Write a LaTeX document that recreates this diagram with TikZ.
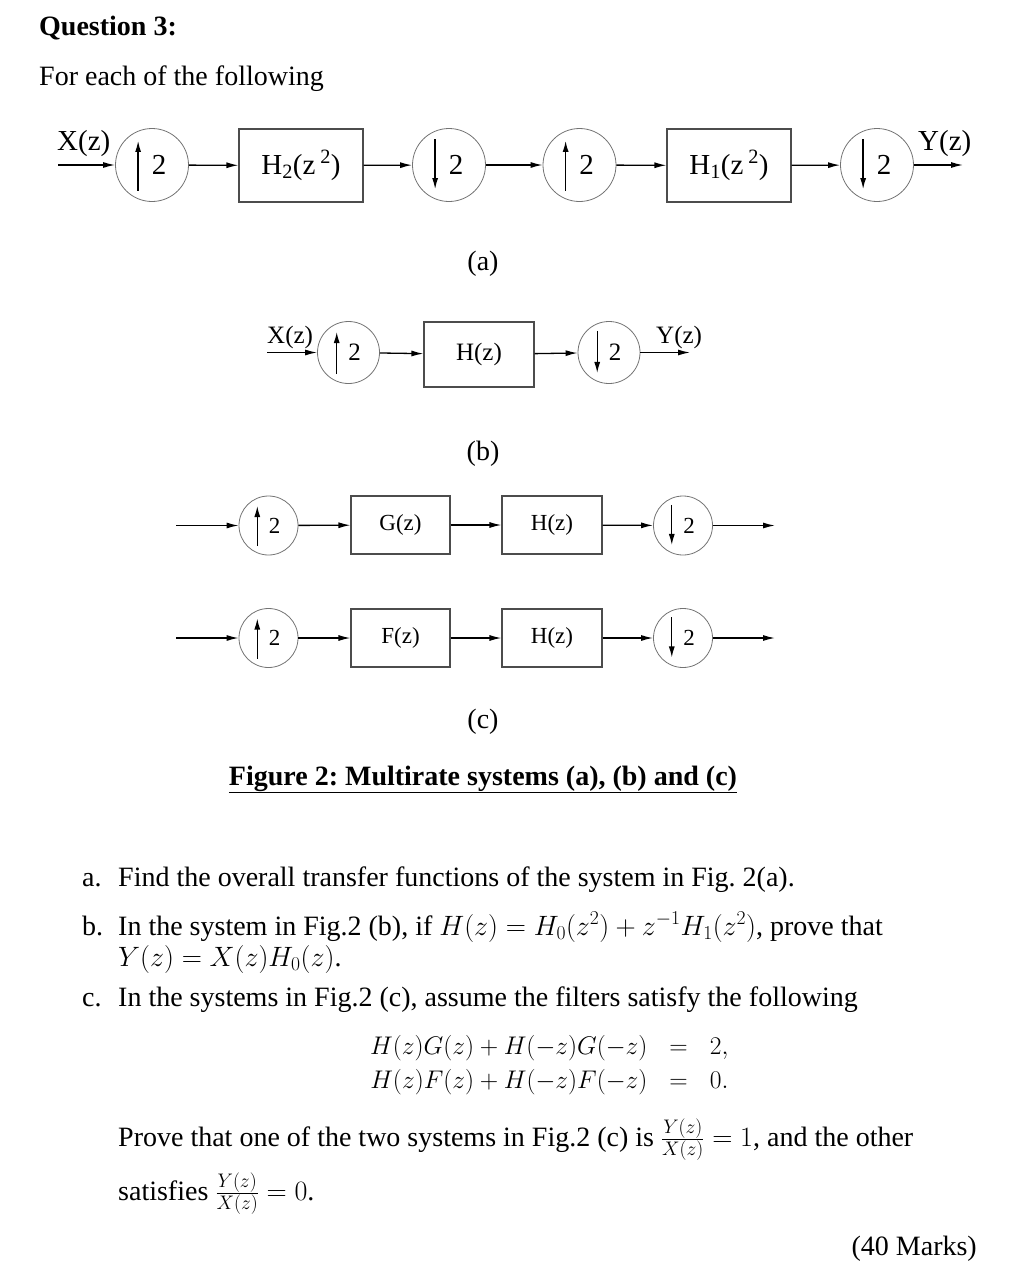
\RequirePackage{fix-cm}
\documentclass[tikz,border=0pt]{standalone}
\usepackage{fontspec}
\setmainfont{Liberation Serif}
\usetikzlibrary{arrows.meta}
\frenchspacing

\begin{document}
\begin{tikzpicture}[x=1pt, y=-1pt, >={Latex[length=12pt,width=6pt]},
		wire/.style={draw=black, line width=1.3pt},
		sam/.style={circle, draw=black!55, line width=0.8pt, minimum size=#1, inner sep=0pt},
		up/.style={sam=#1, path picture={\draw[wire, -{Latex[length=11pt,width=6pt]}]
			([xshift=-0.19*#1, yshift=-0.35*#1]path picture bounding box.center) -- ++(0pt,0.68*#1);}},
		down/.style={sam=#1, path picture={\draw[wire, -{Latex[length=11pt,width=6pt]}]
			([xshift=-0.19*#1, yshift=0.35*#1]path picture bounding box.center) -- ++(0pt,-0.68*#1);}},
		blk/.style 2 args={draw=black!70, line width=1.1pt, minimum width=#1, minimum height=#2, inner sep=0pt},
		lbl/.style={anchor=base west, inner sep=0pt},
		txt/.style={anchor=base west, inner sep=0pt, font=\fontsize{28}{34}\selectfont}]
		\useasboundingbox (0,0) rectangle (1034,1266);

		\node[txt] (qhead) at (39,35) {\textbf{Question 3:}};
		\node[txt] (qintro) at (39,85) {For each of the following};

		% (a)
		\begin{scope}[every node/.append style={font=\fontsize{29}{34}\selectfont}]
			\coordinate (ain) at (58,165);
			\coordinate (aout) at (963,165);
			\node[up=73pt] (a1) at (152,165) {\hspace{14pt}2};
			\node[blk={124pt}{73pt}] (a2) at (301,165.5) {H\textsubscript{2}(z\,\textsuperscript{2})};
			\node[down=73pt] (a3) at (449,165) {\hspace{14pt}2};
			\node[up=73pt] (a4) at (579.5,165) {\hspace{14pt}2};
			\node[blk={124pt}{73pt}] (a5) at (729,165.5) {H\textsubscript{1}(z\,\textsuperscript{2})};
			\node[down=73pt] (a6) at (877,165) {\hspace{14pt}2};
			\node[lbl] (xa) at (57,150) {X(z)};
			\node[lbl] (ya) at (918,150) {Y(z)};
			\draw[wire,->] (ain) -- (a1);
			\draw[wire,->] (a1) -- (a2);
			\draw[wire,->] (a2) -- (a3);
			\draw[wire,->] (a3) -- (a4);
			\draw[wire,->] (a4) -- (a5);
			\draw[wire,->] (a5) -- (a6);
			\draw[wire,->] (a6) -- (aout);
		\end{scope}
		\node[txt, anchor=base] (capa) at (483,270) {(a)};

		% (b)
		\begin{scope}[every node/.append style={font=\fontsize{25}{30}\selectfont}]
			\coordinate (bin) at (267,352.5);
			\coordinate (bout) at (690,352.5);
			\node[up=62pt] (b1) at (348.5,352.5) {\hspace{12pt}2};
			\node[blk={110pt}{65pt}] (b2) at (479,354.5) {H(z)};
			\node[down=62pt] (b3) at (609,352.5) {\hspace{12pt}2};
			\node[lbl] (xb) at (267,343) {X(z)};
			\node[lbl] (yb) at (656,343) {Y(z)};
			\draw[wire,->] (bin) -- (b1);
			\draw[wire,->] (b1) -- (b2);
			\draw[wire,->] (b2) -- (b3);
			\draw[wire,->] (b3) -- (bout);
		\end{scope}
		\node[txt, anchor=base] (capb) at (483,460) {(b)};

		% (c)
		\begin{scope}[every node/.append style={font=\fontsize{23}{28}\selectfont}]
			\coordinate (cin) at (176,525.5);
			\coordinate (cout) at (775,525.5);
			\node[up=59pt] (c1) at (268.5,525.5) {\hspace{12pt}2};
			\node[blk={99pt}{58pt}] (c2) at (400.5,525) {G(z)};
			\node[blk={100pt}{58pt}] (c3) at (552,525) {H(z)};
			\node[down=59pt] (c4) at (683,525.5) {\hspace{12pt}2};
			\draw[wire,->] (cin) -- (c1);
			\draw[wire,->] (c1) -- (c2);
			\draw[wire,->] (c2) -- (c3);
			\draw[wire,->] (c3) -- (c4);
			\draw[wire,->] (c4) -- (cout);
			\coordinate (din) at (176,638);
			\coordinate (dout) at (775,638);
			\node[up=59pt] (d1) at (268.5,638) {\hspace{12pt}2};
			\node[blk={99pt}{58pt}] (d2) at (400.5,638) {F(z)};
			\node[blk={100pt}{58pt}] (d3) at (552,638) {H(z)};
			\node[down=59pt] (d4) at (683,638) {\hspace{12pt}2};
			\draw[wire,->] (din) -- (d1);
			\draw[wire,->] (d1) -- (d2);
			\draw[wire,->] (d2) -- (d3);
			\draw[wire,->] (d3) -- (d4);
			\draw[wire,->] (d4) -- (dout);
		\end{scope}
		\node[txt, anchor=base] (capc) at (483,728) {(c)};
		\node[txt, anchor=base] (fig) at (483,785) {\textbf{\underline{Figure 2: Multirate systems (a), (b) and (c)}}};

		% questions
		\node[txt] (la) at (82,886) {a.};
		\node[txt] (ta) at (118,886) {Find the overall transfer functions of the system in Fig. 2(a).};
		\node[txt] (lb) at (82,935) {b.};
		\node[txt] (tb) at (118,935) {In the system in Fig.2 (b), if $H(z)=H_0(z^2)+z^{-1}H_1(z^2)$, prove that};
		\node[txt] (tb2) at (118,966) {$Y(z)=X(z)H_0(z)$.};
		\node[txt] (lc) at (82,1006) {c.};
		\node[txt] (tc) at (118,1006) {In the systems in Fig.2 (c), assume the filters satisfy the following};
		\node[txt, font=\fontsize{25.5}{34}\selectfont] (eqs) at (370,1071)
			{$\begin{array}{@{}r@{\hspace{22pt}}c@{\hspace{22pt}}l@{}}
				H(z)G(z)+H(-z)G(-z) & = & 2,\\
				H(z)F(z)+H(-z)F(-z) & = & 0.
			\end{array}$};
		\node[txt] (tp) at (118,1146) {Prove that one of the two systems in Fig.2 (c) is $\frac{Y(z)}{X(z)}=1$, and the other};
		\node[txt] (ts) at (118,1200) {satisfies $\frac{Y(z)}{X(z)}=0$.};
		\node[txt, anchor=base east] (marks) at (977,1255) {(40 Marks)};
\end{tikzpicture}
\end{document}
